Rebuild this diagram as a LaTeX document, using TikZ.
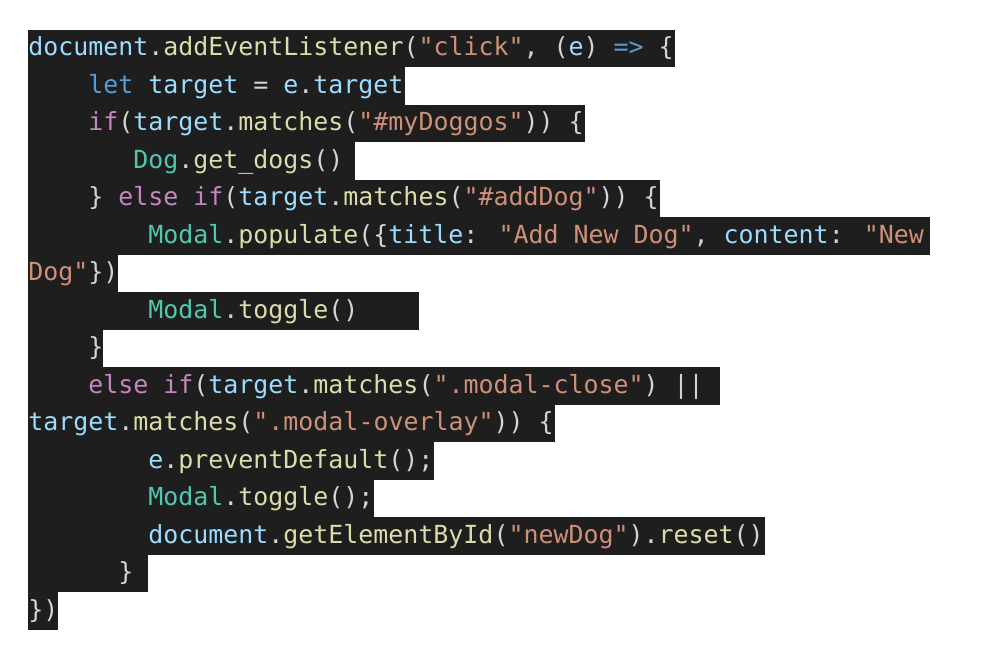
\documentclass[tikz,border=0pt]{standalone}
\usepackage{fontspec}
\newfontfamily\codefont{DejaVu Sans Mono}
\definecolor{barbg}{HTML}{1E1E1E}
\definecolor{ckw}{HTML}{C586C0}
\definecolor{cbl}{HTML}{569CD6}
\definecolor{cvar}{HTML}{9CDCFE}
\definecolor{cfn}{HTML}{DCDCAA}
\definecolor{ccls}{HTML}{4EC9B0}
\definecolor{cstr}{HTML}{CE9178}
\definecolor{cpun}{HTML}{D4D4D4}
\newcommand\cK[1]{\textcolor{ckw}{#1}}
\newcommand\cB[1]{\textcolor{cbl}{#1}}
\newcommand\cV[1]{\textcolor{cvar}{#1}}
\newcommand\cF[1]{\textcolor{cfn}{#1}}
\newcommand\cC[1]{\textcolor{ccls}{#1}}
\newcommand\cS[1]{\textcolor{cstr}{#1}}
\tikzset{codeline/.style={anchor=base west,inner sep=0pt,text=cpun,font=\codefont\fontsize{18.7}{20}\selectfont}}
\begin{document}
\begin{tikzpicture}[x=0.75pt,y=-0.75pt]
\useasboundingbox (0,0) rectangle (983,666);
\fill[white] (0,0) rectangle (983,666);
\foreach \i/\r in {0/675,1/405,2/585,3/355,4/660,5/930,6/118,7/419,8/103,9/720,10/555,11/434,12/374,13/765,14/148,15/58}{
  \fill[barbg] (28,{30+37.5*\i}) rectangle (\r,{30+37.5*(\i+1)});
}
\def\ly#1{30+37.5*#1+26}
\node[codeline] (l0) at (28,{\ly{0}}) {\cV{document}.\cF{addEventListener}(\cS{"click"}, (\cV{e}) \cB{=>} \{};
\node[codeline] (l1) at (88,{\ly{1}}) {\cB{let} \cV{target} = \cV{e}.\cV{target}};
\node[codeline] (l2) at (88,{\ly{2}}) {\cK{if}(\cV{target}.\cF{matches}(\cS{"\#myDoggos"})) \{};
\node[codeline] (l3) at (133,{\ly{3}}) {\cC{Dog}.\cF{get\_dogs}()};
\node[codeline] (l4) at (88,{\ly{4}}) {\} \cK{else} \cK{if}(\cV{target}.\cF{matches}(\cS{"\#addDog"})) \{};
\node[codeline] (l5) at (148,{\ly{5}}) {\cC{Modal}.\cF{populate}(\{\cV{title}: \cS{"Add New Dog"}, \cV{content}: \cS{"New}};
\node[codeline] (l6) at (28,{\ly{6}}) {\cS{Dog"}\})};
\node[codeline] (l7) at (148,{\ly{7}}) {\cC{Modal}.\cF{toggle}()};
\node[codeline] (l8) at (88,{\ly{8}}) {\}};
\node[codeline] (l9) at (88,{\ly{9}}) {\cK{else} \cK{if}(\cV{target}.\cF{matches}(\cS{".modal-close"}) ||};
\node[codeline] (l10) at (28,{\ly{10}}) {\cV{target}.\cF{matches}(\cS{".modal-overlay"})) \{};
\node[codeline] (l11) at (148,{\ly{11}}) {\cV{e}.\cF{preventDefault}();};
\node[codeline] (l12) at (148,{\ly{12}}) {\cC{Modal}.\cF{toggle}();};
\node[codeline] (l13) at (148,{\ly{13}}) {\cV{document}.\cF{getElementById}(\cS{"newDog"}).\cF{reset}()};
\node[codeline] (l14) at (118,{\ly{14}}) {\}};
\node[codeline] (l15) at (28,{\ly{15}}) {\})};
\end{tikzpicture}
\end{document}
